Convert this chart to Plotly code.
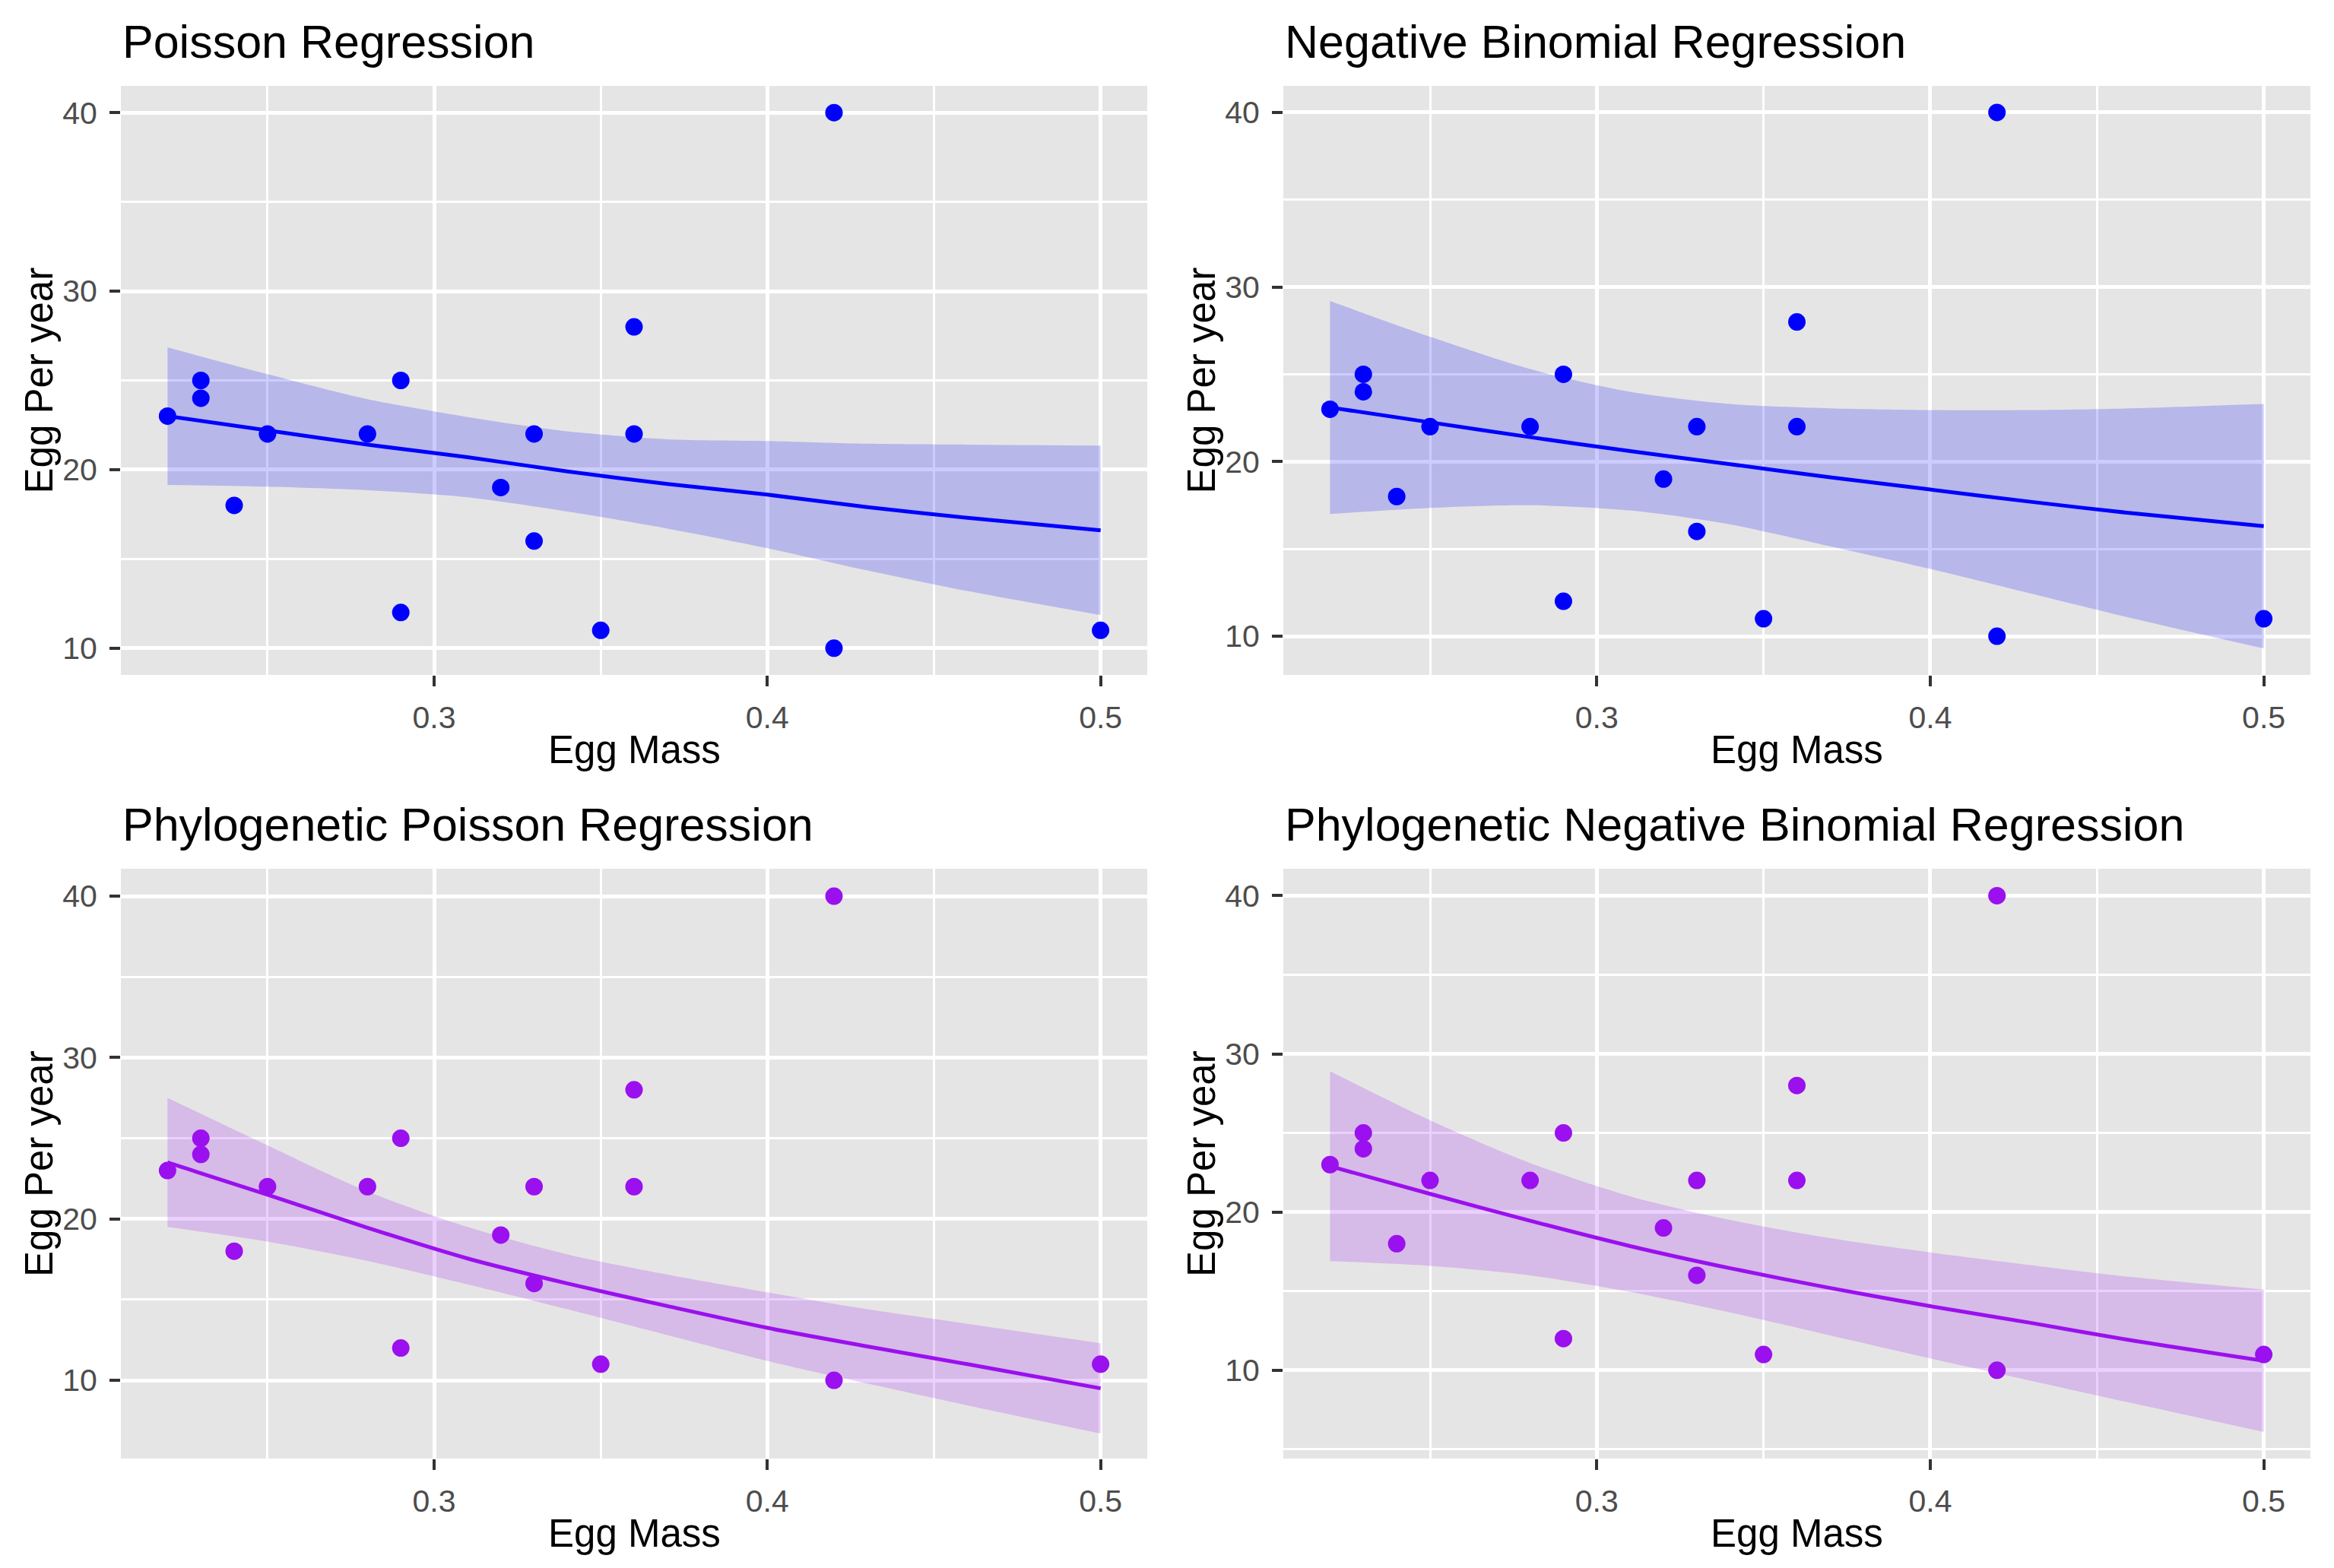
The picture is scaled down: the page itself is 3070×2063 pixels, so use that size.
import plotly.graph_objects as go

# ---------------- data ----------------
egg_mass = [0.22, 0.23, 0.23, 0.24, 0.25, 0.28, 0.29, 0.29, 0.32, 0.33,
            0.33, 0.35, 0.36, 0.36, 0.42, 0.42, 0.50]
egg_per_year = [23, 25, 24, 18, 22, 22, 25, 12, 19, 22,
                16, 11, 28, 22, 40, 10, 11]

fit_x = [0.22, 0.25, 0.28, 0.31, 0.34, 0.37, 0.40, 0.43, 0.46, 0.50]

pois_fit = [23.0, 22.2, 21.4, 20.7, 19.9, 19.2, 18.6, 17.9, 17.3, 16.6]
pois_upper = [26.85, 25.35, 23.95, 22.95, 22.15, 21.7, 21.6, 21.45, 21.4, 21.35]
pois_lower = [19.15, 19.05, 18.85, 18.45, 17.65, 16.7, 15.6, 14.35, 13.2, 11.85]

nb_fit = [23.1, 22.25, 21.4, 20.6, 19.85, 19.1, 18.4, 17.7, 17.05, 16.3]
nb_upper = [29.2, 27.15, 25.3, 24.0, 23.3, 23.05, 22.95, 22.95, 23.05, 23.3]
nb_lower = [17.0, 17.35, 17.5, 17.2, 16.4, 15.15, 13.85, 12.45, 11.05, 9.3]

phy_pois_fit = [23.5, 21.5, 19.45, 17.55, 16.0, 14.6, 13.25, 12.1, 11.0, 9.5]
phy_pois_upper = [27.5, 24.55, 21.7, 19.5, 17.8, 16.55, 15.45, 14.4, 13.5, 12.3]
phy_pois_lower = [19.5, 18.6, 17.4, 15.95, 14.4, 12.8, 11.2, 9.8, 8.45, 6.7]

phy_nb_fit = [22.9, 21.15, 19.45, 17.85, 16.45, 15.2, 14.05, 13.0, 11.9, 10.6]
phy_nb_upper = [28.9, 25.8, 23.1, 21.0, 19.5, 18.35, 17.45, 16.65, 15.9, 15.1]
phy_nb_lower = [16.9, 16.6, 16.0, 14.95, 13.65, 12.2, 10.75, 9.35, 7.95, 6.1]

panel_titles = ["Poisson Regression", "Negative Binomial Regression",
                "Phylogenetic Poisson Regression",
                "Phylogenetic Negative Binomial Regression"]
x_title = "Egg Mass"
y_title = "Egg Per year"

x_ticks = [0.3, 0.4, 0.5]
x_tick_labels = ["0.3", "0.4", "0.5"]
y_ticks = [10, 20, 30, 40]
y_tick_labels = ["10", "20", "30", "40"]

# ---------------- styling / layout ----------------
W, H = 3070, 2063
BLUE = "#0000FF"
BLUE_FILL = "rgba(0,0,255,0.2)"
PURPLE = "#9A10EE"
PURPLE_FILL = "rgba(154,16,238,0.2)"
PANEL_BG = "#E5E5E5"
FONT = "Liberation Sans, Arial, Helvetica, sans-serif"

# panel pixel boxes: (left, right, top, bottom)
panels_px = [(159, 1509, 113, 888), (1688, 3039, 113, 888),
             (159, 1509, 1143, 1919), (1688, 3039, 1143, 1919)]
y_ranges = [[8.5, 41.5], [7.78, 41.52], [5.15, 41.7], [4.42, 41.7]]
x_range = [0.206, 0.514]

series = [
    (pois_fit, pois_upper, pois_lower, BLUE, BLUE_FILL),
    (nb_fit, nb_upper, nb_lower, BLUE, BLUE_FILL),
    (phy_pois_fit, phy_pois_upper, phy_pois_lower, PURPLE, PURPLE_FILL),
    (phy_nb_fit, phy_nb_upper, phy_nb_lower, PURPLE, PURPLE_FILL),
]

fig = go.Figure()
annotations = []
layout_axes = {}

for i, ((fit, up, lo, col, fillcol), (l, r, t, b), yr, title) in enumerate(
        zip(series, panels_px, y_ranges, panel_titles)):
    n = i + 1
    xa = "x" if n == 1 else f"x{n}"
    ya = "y" if n == 1 else f"y{n}"
    # ribbon
    fig.add_trace(go.Scatter(x=fit_x, y=lo, xaxis=xa, yaxis=ya, mode="lines",
                             line=dict(width=0, color=fillcol, shape="spline", smoothing=0.8),
                             showlegend=False, hoverinfo="skip"))
    fig.add_trace(go.Scatter(x=fit_x, y=up, xaxis=xa, yaxis=ya, mode="lines",
                             line=dict(width=0, color=fillcol, shape="spline", smoothing=0.8),
                             fill="tonexty", fillcolor=fillcol,
                             showlegend=False, hoverinfo="skip"))
    # fitted line
    fig.add_trace(go.Scatter(x=fit_x, y=fit, xaxis=xa, yaxis=ya, mode="lines",
                             line=dict(width=5, color=col, shape="spline", smoothing=0.8),
                             showlegend=False))
    # points
    fig.add_trace(go.Scatter(x=egg_mass, y=egg_per_year, xaxis=xa, yaxis=ya,
                             mode="markers", marker=dict(size=23, color=col, line=dict(width=0)),
                             showlegend=False))

    xdom = [l / W, r / W]
    ydom = [1 - b / H, 1 - t / H]
    common = dict(showline=False, zeroline=False, showgrid=True, gridcolor="white",
                  ticks="outside", ticklen=14, tickwidth=4, tickcolor="#333333",
                  tickfont=dict(family=FONT, size=41, color="#4D4D4D"),
                  fixedrange=True)
    layout_axes["xaxis" if n == 1 else f"xaxis{n}"] = dict(
        domain=xdom, anchor=ya, range=x_range, tickmode="array",
        tickvals=x_ticks, ticktext=x_tick_labels, gridwidth=5,
        minor=dict(dtick=0.05, tick0=0, showgrid=True, gridcolor="white",
                   gridwidth=2.5, ticklen=0),
        ticklabelstandoff=6, **common)
    layout_axes["yaxis" if n == 1 else f"yaxis{n}"] = dict(
        domain=ydom, anchor=xa, range=yr, tickmode="array",
        tickvals=y_ticks, ticktext=y_tick_labels, gridwidth=5,
        minor=dict(dtick=5, tick0=0, showgrid=True, gridcolor="white",
                   gridwidth=2.5, ticklen=0),
        ticklabelstandoff=8, **common)

    # panel background
    fig.add_shape(type="rect", xref="paper", yref="paper",
                  x0=xdom[0], x1=xdom[1], y0=ydom[0], y1=ydom[1],
                  fillcolor=PANEL_BG, line=dict(width=0), layer="below")

    # panel title
    annotations.append(dict(text=title, xref="paper", yref="paper",
                            x=l / W, y=1 - (t - 58) / H, xanchor="left", yanchor="middle",
                            showarrow=False, font=dict(family=FONT, size=61, color="black")))
    # x title
    annotations.append(dict(text=x_title, xref="paper", yref="paper",
                            x=(l + r) / 2 / W, y=1 - (b + 98) / H, xanchor="center",
                            yanchor="middle", showarrow=False,
                            font=dict(family=FONT, size=51, color="black")))
    # y title
    annotations.append(dict(text=y_title, xref="paper", yref="paper",
                            x=(l - 108) / W, y=1 - (t + b) / 2 / H, xanchor="center",
                            yanchor="middle", textangle=-90, showarrow=False,
                            font=dict(family=FONT, size=51, color="black")))

fig.update_layout(width=W, height=H, margin=dict(l=0, r=0, t=0, b=0),
                  paper_bgcolor="white", plot_bgcolor="rgba(0,0,0,0)",
                  font=dict(family=FONT), annotations=annotations, **layout_axes)

fig.write_html("out.html", config={"displayModeBar": False},
               post_script="document.body.style.margin='0';document.body.style.overflow='hidden';")
